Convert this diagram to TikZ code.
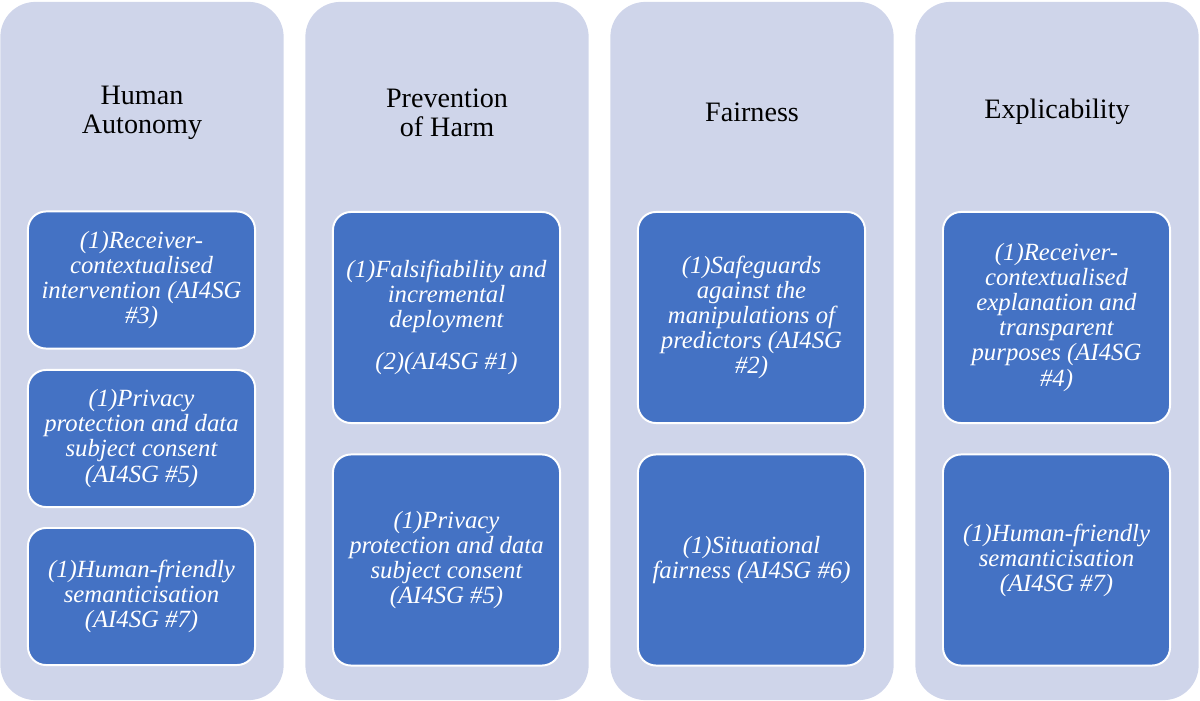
\documentclass[tikz,border=0pt]{standalone}
\usepackage{fontspec}
\setmainfont{Liberation Serif}
\usetikzlibrary{positioning}
\definecolor{pillarFill}{HTML}{CFD5EA}
\definecolor{itemBlue}{HTML}{4472C4}

\tikzset{
  pillar/.style={fill=pillarFill,rounded corners=0.875cm,minimum width=7.08cm,minimum height=17.45cm,inner sep=0pt},
  pillarhead/.style={align=center,font=\fontsize{20}{20.6}\selectfont,text=black},
  itembox/.style={draw=white,line width=1.4pt,fill=itemBlue,rounded corners=0.45cm,text=white,
    align=center,inner sep=0pt,minimum width=5.675cm,font=\itshape\fontsize{17.6}{17.8}\selectfont},
  short/.style={itembox,minimum height=3.425cm},
  tall/.style={itembox,minimum height=5.275cm}
}

\begin{document}
\begin{tikzpicture}[x=0.025cm,y=-0.025cm]
    \path[use as bounding box] (0,0) rectangle (1200,701);
    % four principle columns
    \foreach \cx/\name in {142/autonomy,447/harm,752/fairness,1057/explic} {
      \node[pillar] (\name) at (\cx,351) {};
    }
    \node[pillarhead] (autonomyHead) at (142,113) {Human\\Autonomy};
    \node[pillarhead] (harmHead) at (447,113) {Prevention\\of Harm};
    \node[pillarhead] (fairnessHead) at (752,112) {Fairness};
    \node[pillarhead] (explicHead) at (1057,112) {Explicability};
    % human autonomy
    \node[short] (autoA) at (141.5,280) {(1)Receiver-\\contextualised\\intervention (AI4SG\\\#3)};
    \node[short] (autoB) at (141.5,438.5) {(1)Privacy\\protection and data\\subject consent\\(AI4SG \#5)};
    \node[short] (autoC) at (141.5,596.5) {(1)Human-friendly\\semanticisation\\(AI4SG \#7)};
    % prevention of harm
    \node[tall] (harmA) at (446.5,317.5) {(1)Falsifiability and\\incremental\\deployment\\[12pt](2)(AI4SG \#1)};
    \node[tall] (harmB) at (446.5,560) {(1)Privacy\\protection and data\\subject consent\\(AI4SG \#5)};
    % fairness
    \node[tall] (fairA) at (751.5,317.5) {(1)Safeguards\\against the\\manipulations of\\predictors (AI4SG\\\#2)};
    \node[tall] (fairB) at (751.5,560) {(1)Situational\\fairness (AI4SG \#6)};
    % explicability
    \node[tall] (explA) at (1056.5,317.5) {(1)Receiver-\\contextualised\\explanation and\\transparent\\purposes (AI4SG\\\#4)};
    \node[tall] (explB) at (1056.5,560) {(1)Human-friendly\\semanticisation\\(AI4SG \#7)};
  \end{tikzpicture}
\end{document}
